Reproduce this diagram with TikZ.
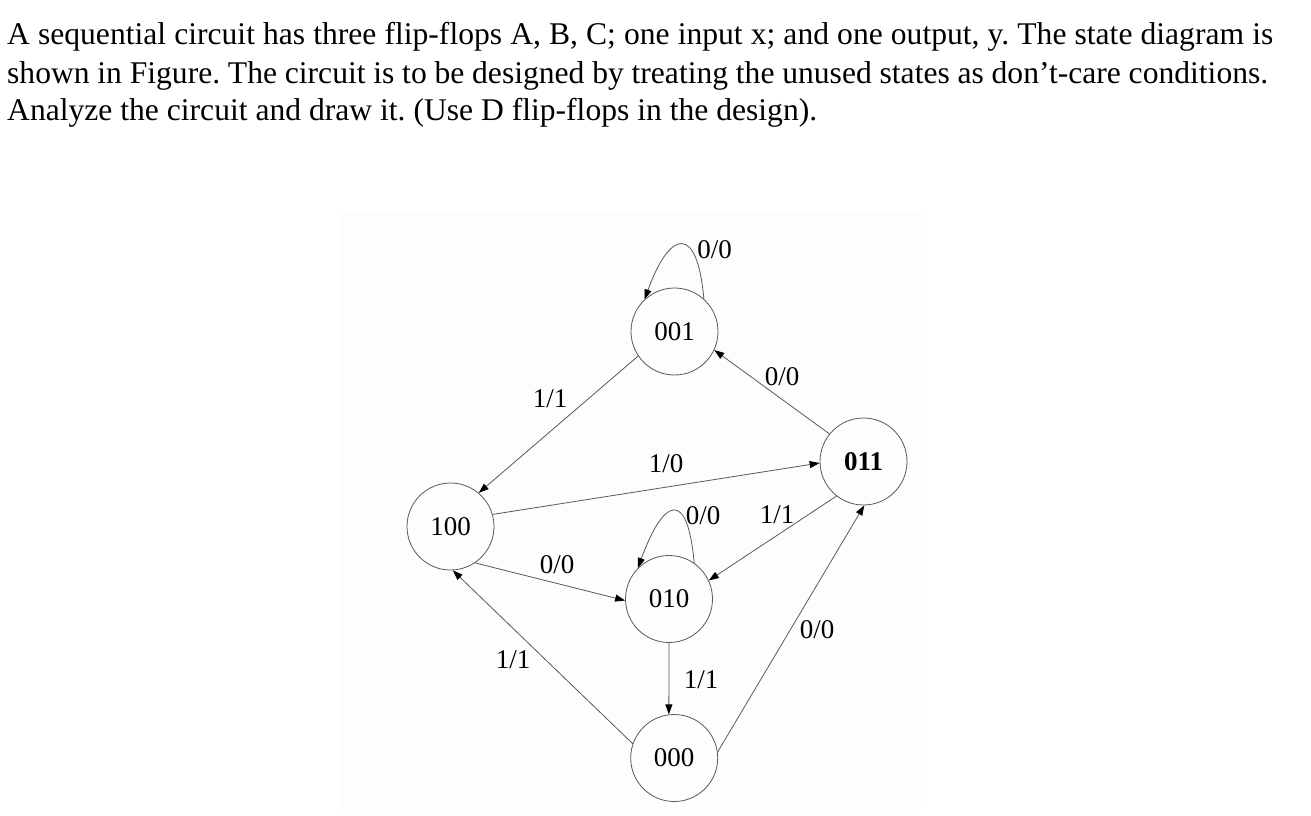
\documentclass[tikz,border=0pt]{standalone}
\usepackage{fontspec}
\setmainfont{Liberation Serif}
\usetikzlibrary{arrows.meta}
\begin{document}
\frenchspacing
\begin{tikzpicture}[x=1pt,y=1pt,
  state/.style={circle,draw=black!65,line width=0.8pt,minimum size=87pt,inner sep=0pt,font=\fontsize{27}{30}\selectfont},
  lbl/.style={font=\fontsize{27}{30}\selectfont,inner sep=0pt},
  para/.style={anchor=base west,inner sep=0pt,font=\fontsize{31.6}{38}\selectfont},
  edge/.style={draw=black!65,line width=0.8pt,-{Triangle[length=10pt,width=7pt,color=black]}}]
\useasboundingbox (0,0) rectangle (1311,-816);
\fill[black!0.6] (340,-212) rectangle (922,-810);
% question text
\node[para] (t1) at (7,-45) {\makebox[1266pt][s]{A sequential circuit has three flip-flops A, B, C; one input x; and one output, y. The state diagram is}};
\node[para] (t2) at (7,-83) {\makebox[1261pt][s]{shown in Figure. The circuit is to be designed by treating the unused states as don’t-care conditions.}};
\node[para] (t3) at (7,-120) {Analyze the circuit and draw it. (Use D flip-flops in the design).};
% states
\node[state] (n001) at (674.5,-331.5) {001};
\node[state] (n100) at (450.5,-526.5) {100};
\node[state] (n011) at (863.5,-461.5) {\bfseries 011};
\node[state] (n010) at (669,-599) {010};
\node[state] (n000) at (674.2,-758) {000};
% transitions
\draw[edge] (n001.48) .. controls +(95:75) and +(70:75) .. (n001.133);
\draw[edge] (n010.55) .. controls +(95:75) and +(70:75) .. (n010.135);
\draw[edge] (n001.214) -- (n100.50);
\draw[edge] (n011.141) -- (n001.335);
\draw[edge] (n100.16) -- (n011.182);
\draw[edge] (n011.232) -- (n010.25);
\draw[edge] (n100.304) -- (n010.182);
\draw[edge] (n010.south) -- (n000.97);
\draw[edge] (n000.161) -- (n100.273);
\draw[edge] (n000.8) -- (n011.271);
% labels
\node[lbl] (l1) at (714.5,-250) {0/0};
\node[lbl] (l2) at (782,-377) {0/0};
\node[lbl] (l3) at (550,-399) {1/1};
\node[lbl] (l4) at (666,-464) {1/0};
\node[lbl] (l5) at (703,-516) {0/0};
\node[lbl] (l6) at (777,-515) {1/1};
\node[lbl] (l7) at (557,-565) {0/0};
\node[lbl] (l8) at (817,-630) {0/0};
\node[lbl] (l9) at (513,-660) {1/1};
\node[lbl] (l10) at (701,-680) {1/1};
\end{tikzpicture}
\end{document}
